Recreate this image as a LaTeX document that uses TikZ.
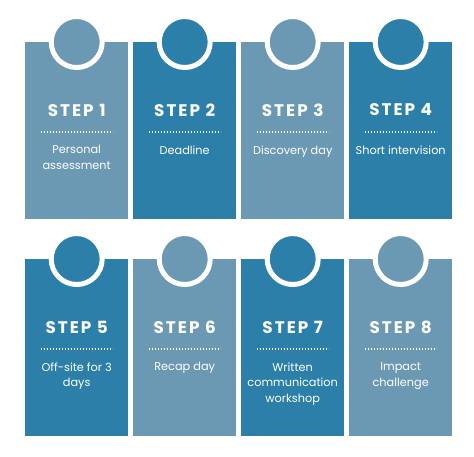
\documentclass[tikz,border=0pt]{standalone}
\usepackage{fontspec}
\setmainfont{Poppins}
\newfontfamily\stepfont[LetterSpace=12]{Poppins}
\definecolor{palestep}{HTML}{6B98B2}
\definecolor{deepstep}{HTML}{2B7FA9}
\tikzset{
  stepcard/.style={fill=#1, draw=none, minimum width=103pt, minimum height=177pt,
    anchor=north west, inner sep=0pt},
  stepdisc/.style={circle, fill=#1, draw=white, line width=5pt, minimum size=51pt, inner sep=0pt},
  steptitle/.style={text=white, font=\stepfont\bfseries\fontsize{16.8}{20}\selectfont},
  stepnote/.style={text=white, align=center, anchor=north,
    font=\fontsize{11.3}{15.8}\selectfont},
  steprule/.style={white, line width=1.1pt, dash pattern=on 1.1pt off 1.9pt}
}
\begin{document}
\begin{tikzpicture}[x=1pt, y=-1pt]
  \useasboundingbox[fill=white] (0,0) rectangle (474,456);
  % eight cards: column, row, colour, text
  \foreach \n/\c/\r/\col/\txt in {
      1/0/0/palestep/{Personal\\assessment},
      2/1/0/deepstep/{Deadline},
      3/2/0/palestep/{Discovery day},
      4/3/0/deepstep/{Short intervision},
      5/0/1/deepstep/{Off-site for 3\\days},
      6/1/1/palestep/{Recap day},
      7/2/1/deepstep/{Written\\communication\\workshop},
      8/3/1/palestep/{Impact\\challenge}} {
    \node[stepcard=\col] (card\n) at (25+108*\c, 42+217*\r) {};
    \node[stepdisc=\col] (disc\n) at (card\n.north) {};
    \node[steptitle] (title\n) at ([yshift=-68pt]card\n.north) {STEP \n};
    \coordinate (rulel\n) at ([xshift=-36pt, yshift=-90pt]card\n.north);
    \coordinate (ruler\n) at ([xshift=36pt, yshift=-90pt]card\n.north);
    \draw[steprule] (rulel\n) -- (ruler\n);
    \node[stepnote] (note\n) at ([yshift=-100pt]card\n.north) {\txt};
  }
\end{tikzpicture}
\end{document}
